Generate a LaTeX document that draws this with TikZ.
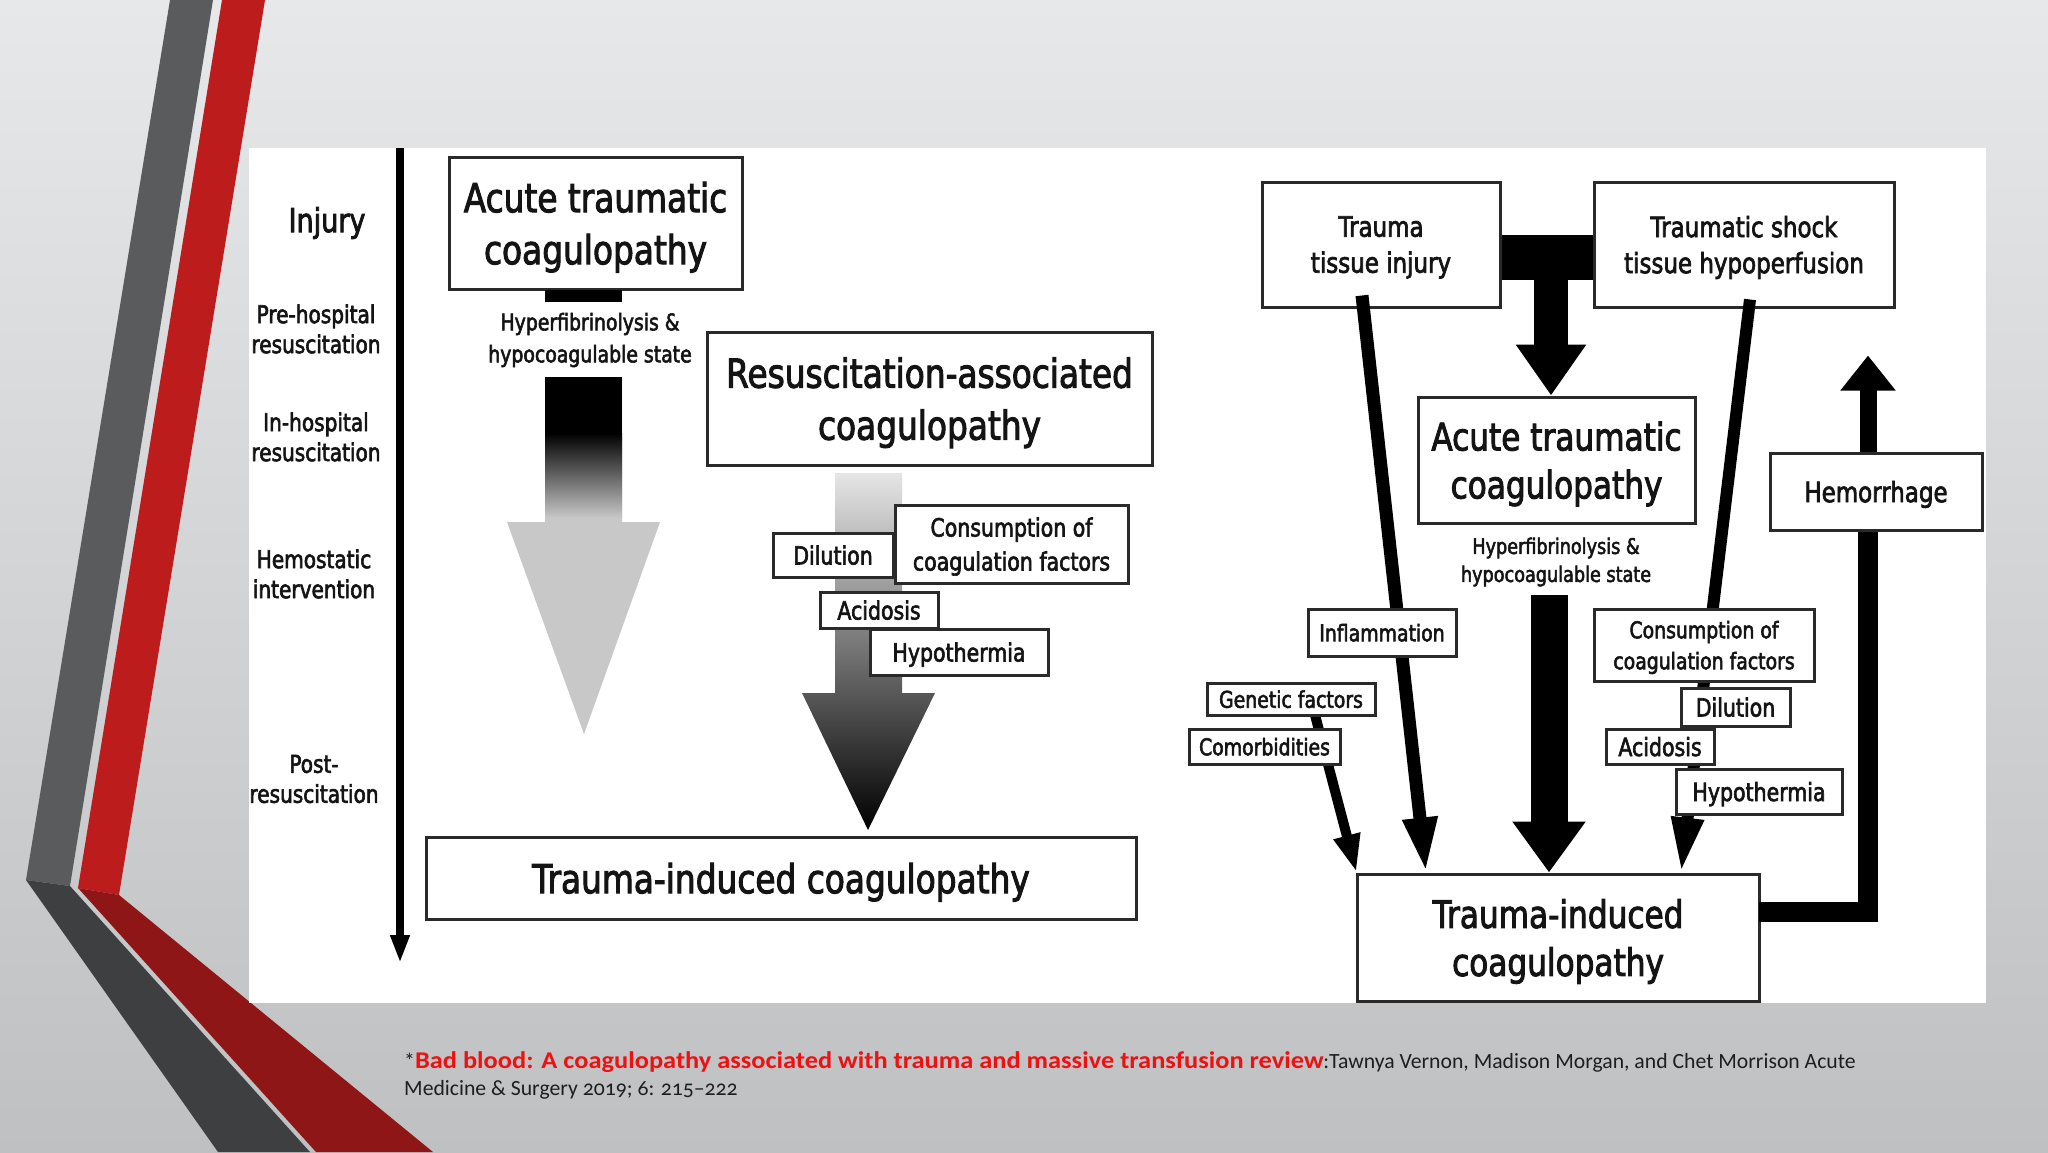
\documentclass[tikz,border=0pt]{standalone}
\usepackage{fontspec}
\setmainfont{Carlito}[Numbers=OldStyle]
\newfontfamily\dv{DejaVu Sans}[FakeStretch=0.82,FakeBold=2.4]
\usetikzlibrary{arrows.meta,calc}
\definecolor{bgtop}{HTML}{E7E8E9}
\definecolor{bgbot}{HTML}{BEC0C2}
\definecolor{stgray}{HTML}{5A5B5D}
\definecolor{stdark}{HTML}{3E3F41}
\definecolor{stred}{HTML}{BC1C1C}
\definecolor{stdred}{HTML}{8E1616}
\definecolor{boxc}{HTML}{2A2A2A}
\definecolor{txt}{HTML}{141414}
\definecolor{citered}{HTML}{EE1111}
\definecolor{lgray}{HTML}{C8C8C8}
\definecolor{citeblk}{HTML}{1E1E1E}
\newcommand{\fbig}{\dv\fontsize{40}{52}\selectfont}
\newcommand{\fbigR}{\dv\fontsize{38}{48}\selectfont}
\newcommand{\fmed}{\dv\fontsize{28}{36}\selectfont}
\newcommand{\fsml}{\dv\fontsize{25}{34}\selectfont}
\newcommand{\fsmr}{\dv\fontsize{23}{31}\selectfont}
\newcommand{\fhyp}{\dv\fontsize{23}{32}\selectfont}
\newcommand{\fhypr}{\dv\fontsize{21.5}{28}\selectfont}
\newcommand{\flab}{\dv\fontsize{24.5}{30}\selectfont}
\newcommand{\finj}{\dv\fontsize{33}{36}\selectfont}
\newcommand{\fcite}{\fontsize{21.7}{27}\selectfont}
\tikzset{
  box/.style={draw=boxc, line width=3pt, fill=white, inner sep=0pt, align=center, text=txt, text depth=0pt},
  lab/.style={align=center, text=txt, inner sep=0pt},
  conn/.style={draw=black, line cap=butt},
}
\begin{document}
\begin{tikzpicture}[x=1pt,y=-1pt]
\useasboundingbox (0,0) rectangle (2048,1152);
% background
\shade[top color=bgtop, bottom color=bgbot] (0,0) rectangle (2048,1152);
% decorative stripes
\fill[stgray] (170,0) -- (213,0) -- (70,886) -- (26,880) -- cycle;
\fill[stred] (222,0) -- (265,0) -- (119,895) -- (78,888) -- cycle;
\fill[stdark] (26,880) -- (70,886) -- (310,1152) -- (218,1152) -- cycle;
\fill[stdred] (78,888) -- (119,895) -- (433,1152) -- (316,1152) -- cycle;
% white panel
\fill[white] (249,148) rectangle (1986,1003);

%================ LEFT PANEL ================
% timeline
\coordinate (tltop) at (400,148);
\coordinate (tlbot) at (400,963);
\draw[conn, line width=8pt, -{Triangle[width=18pt,length=28pt]}] (tltop) -- (tlbot);
\node[lab, font=\finj] (lInj) at (327,223) {Injury};
\node[lab, font=\flab] (lPre) at (316,329) {Pre-hospital\\resuscitation};
\node[lab, font=\flab] (lIn) at (316,437) {In-hospital\\resuscitation};
\node[lab, font=\flab] (lHem) at (314,574) {Hemostatic\\intervention};
\node[lab, font=\flab] (lPost) at (314,779) {Post-\\resuscitation};

% acute traumatic coagulopathy (left)
\node[box, minimum width=293, minimum height=132, font=\fbig] (atcL) at (595.5,223) {Acute traumatic\\coagulopathy};
\fill[black] ($(atcL.south)+(-50.5,-1)$) rectangle ($(atcL.south)+(26.5,11)$);
\node[lab, font=\fhyp] (hypL) at (590,340) {Hyperfibrinolysis \&\\hypocoagulable state};
% grey fading arrow
\fill[lgray] (545,377) -- (622,377) -- (622,522) -- (660,522) -- (584,734) -- (507,522) -- (545,522) -- cycle;
\fill[black] (545,377) rectangle (622,434);
\shade[top color=black, bottom color=lgray] (545,433) rectangle (622,518);

% resuscitation-associated coagulopathy
\node[box, minimum width=445, minimum height=133, font=\fbig] (racL) at (929.5,398.5) {Resuscitation-associated\\coagulopathy};
% darkening arrow
\shade[top color=black!10, bottom color=black] (835,473) -- (902,473) -- (902,693) -- (935,693) -- (868,830) -- (802,693) -- (835,693) -- cycle;
\node[box, minimum width=120, minimum height=44, font=\fsml] (dilL) at (833,555) {Dilution};
\node[box, minimum width=233, minimum height=78, font=\fsml] (consL) at (1011.5,544) {Consumption of\\coagulation factors};
\node[box, minimum width=118, minimum height=36, font=\fsml] (acidL) at (879,610) {Acidosis};
\node[box, minimum width=178, minimum height=46, font=\fsml] (hypoL) at (959,652) {Hypothermia};

% trauma-induced coagulopathy (left)
\node[box, minimum width=710, minimum height=82, font=\fbig] (ticL) at (781,878) {Trauma-induced coagulopathy};

%================ RIGHT PANEL ================
\node[box, minimum width=238, minimum height=125, font=\fmed] (trauma) at (1381,244.5) {Trauma\\tissue injury};
\node[box, minimum width=300, minimum height=125, font=\fmed] (shock) at (1744,244.5) {Traumatic shock\\tissue hypoperfusion};
\node[box, minimum width=277, minimum height=126, font=\fbigR] (atcR) at (1556.5,460) {Acute traumatic\\coagulopathy};
\node[lab, font=\fhypr] (hypR) at (1556,562) {Hyperfibrinolysis \&\\hypocoagulable state};
\node[box, minimum width=212, minimum height=77, font=\fmed] (hemo) at (1876,491.5) {Hemorrhage};
\node[box, minimum width=402, minimum height=127, font=\fbigR] (ticR) at (1558,937.5) {Trauma-induced\\coagulopathy};

% T connector between trauma and shock
\coordinate (tbar) at (0,257.5);
\draw[conn, line width=45pt] (trauma.east |- tbar) -- (shock.west |- tbar);
\draw[conn, line width=34pt, -{Triangle[width=67pt,length=51pt]}] ($(atcR.north |- tbar)+(-5.5,0)$) -- ($(atcR.north)+(-5.5,0)$);

% long lines to trauma-induced
\draw[conn, line width=13pt, -{Triangle[width=32pt,length=55pt]}] ($(trauma.south)+(-19,-13)$) -- ($(ticR.north)+(-132,0)$);
\draw[conn, line width=12pt, -{Triangle[width=30pt,length=55pt]}] ($(shock.south)+(6,-9)$) -- ($(ticR.north)+(123,0)$);
\coordinate (cstart) at (1549,595);
\draw[conn, line width=37pt, -{Triangle[width=70pt,length=51pt]}] (cstart) -- ($(ticR.north)+(-9,0)$);
\draw[conn, line width=10pt, -{Triangle[width=25pt,length=38pt]}] (1315,715) -- ($(ticR.north west)+(1,0)$);

% hemorrhage feedback
\draw[conn, line width=20pt, line join=miter] ($(ticR.east)+(-2,-26)$) -| ($(hemo.south)+(-8,0)$);
\draw[conn, line width=17pt, -{Triangle[width=53pt,length=35pt]}] ($(hemo.north)+(-8,0)$) -- ($(hemo.north)+(-8,-96)$);

% small factor boxes
\node[box, minimum width=148, minimum height=47, font=\fsmr] (infl) at (1382,632.5) {Inflammation};
\node[box, minimum width=168, minimum height=32, font=\fsmr] (gen) at (1291,699) {Genetic factors};
\node[box, minimum width=151, minimum height=35, font=\fsmr] (comor) at (1264.5,746.5) {Comorbidities};
\node[box, minimum width=220, minimum height=72, font=\fsmr] (consR) at (1704,645) {Consumption of\\coagulation factors};
\node[box, minimum width=109, minimum height=38, font=\fsml] (dilR) at (1735.5,707) {Dilution};
\node[box, minimum width=108, minimum height=35, font=\fsml] (acidR) at (1660,746.5) {Acidosis};
\node[box, minimum width=166, minimum height=45, font=\fsml] (hypoR) at (1759,791.5) {Hypothermia};

%================ CITATION ================
\node[anchor=base west, align=left, font=\fcite, text=citeblk, inner sep=0pt] (cite) at (404,1095)
{*{\bfseries\color{citered}\scalebox{1.1}[1]{\fontsize{24}{27}\selectfont Bad blood: A coagulopathy associated with trauma and massive transfusion review}}:Tawnya Vernon, Madison Morgan, and Chet Morrison Acute\\Medicine \& Surgery 2019; 6: 215–222};
\end{tikzpicture}
\end{document}
